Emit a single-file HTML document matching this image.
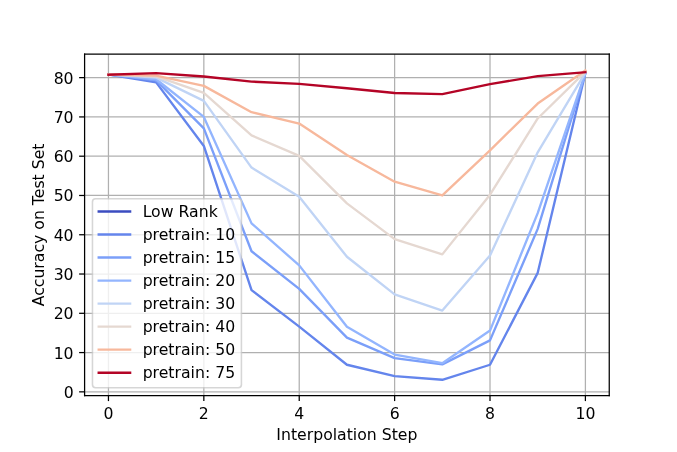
<!DOCTYPE html>
<html><head><meta charset="utf-8"><style>
html,body{margin:0;padding:0;background:#fff;width:677px;height:452px;overflow:hidden}
svg{display:block}
text{font-family:"DejaVu Sans",sans-serif}
</style></head><body>
<svg width="677" height="452" viewBox="0 0 431.362832 288" version="1.1">
 <defs>
  <style type="text/css">*{stroke-linejoin: round; stroke-linecap: butt}</style>
 </defs>
 <g id="figure_1">
  <g id="patch_1">
   <path d="M 0 288 
L 431.362832 288 
L 431.362832 0 
L 0 0 
z
" style="fill: #ffffff"/>
  </g>
  <g id="axes_1">
   <g id="patch_2">
    <path d="M 53.904425 252.063717 
L 388.19469 252.063717 
L 388.19469 34.56 
L 53.904425 34.56 
z
" style="fill: #ffffff"/>
   </g>
   <g id="matplotlib.axis_1">
    <g id="xtick_1">
     <g id="line2d_1">
      <path d="M 69.099437 252.063717 
L 69.099437 34.56 
" clip-path="url(#p710a248817)" style="fill: none; stroke: #b0b0b0; stroke-width: 0.8; stroke-linecap: square"/>
     </g>
     <g id="line2d_2">
      <g>
       <path d="M 69.099437 252.063717 L 69.099437 255.563717" style="stroke: #000000; stroke-width: 0.8"/>
      </g>
     </g>
     <g id="text_1">
      <text style="font-size: 10px; font-family: 'DejaVu Sans', sans-serif; text-anchor: middle" x="69.099437" y="266.662154" transform="rotate(-0 69.099437 266.662154)">0</text>
     </g>
    </g>
    <g id="xtick_2">
     <g id="line2d_3">
      <path d="M 129.879485 252.063717 
L 129.879485 34.56 
" clip-path="url(#p710a248817)" style="fill: none; stroke: #b0b0b0; stroke-width: 0.8; stroke-linecap: square"/>
     </g>
     <g id="line2d_4">
      <g>
       <path d="M 129.879485 252.063717 L 129.879485 255.563717" style="stroke: #000000; stroke-width: 0.8"/>
      </g>
     </g>
     <g id="text_2">
      <text style="font-size: 10px; font-family: 'DejaVu Sans', sans-serif; text-anchor: middle" x="129.879485" y="266.662154" transform="rotate(-0 129.879485 266.662154)">2</text>
     </g>
    </g>
    <g id="xtick_3">
     <g id="line2d_5">
      <path d="M 190.659533 252.063717 
L 190.659533 34.56 
" clip-path="url(#p710a248817)" style="fill: none; stroke: #b0b0b0; stroke-width: 0.8; stroke-linecap: square"/>
     </g>
     <g id="line2d_6">
      <g>
       <path d="M 190.659533 252.063717 L 190.659533 255.563717" style="stroke: #000000; stroke-width: 0.8"/>
      </g>
     </g>
     <g id="text_3">
      <text style="font-size: 10px; font-family: 'DejaVu Sans', sans-serif; text-anchor: middle" x="190.659533" y="266.662154" transform="rotate(-0 190.659533 266.662154)">4</text>
     </g>
    </g>
    <g id="xtick_4">
     <g id="line2d_7">
      <path d="M 251.439582 252.063717 
L 251.439582 34.56 
" clip-path="url(#p710a248817)" style="fill: none; stroke: #b0b0b0; stroke-width: 0.8; stroke-linecap: square"/>
     </g>
     <g id="line2d_8">
      <g>
       <path d="M 251.439582 252.063717 L 251.439582 255.563717" style="stroke: #000000; stroke-width: 0.8"/>
      </g>
     </g>
     <g id="text_4">
      <text style="font-size: 10px; font-family: 'DejaVu Sans', sans-serif; text-anchor: middle" x="251.439582" y="266.662154" transform="rotate(-0 251.439582 266.662154)">6</text>
     </g>
    </g>
    <g id="xtick_5">
     <g id="line2d_9">
      <path d="M 312.21963 252.063717 
L 312.21963 34.56 
" clip-path="url(#p710a248817)" style="fill: none; stroke: #b0b0b0; stroke-width: 0.8; stroke-linecap: square"/>
     </g>
     <g id="line2d_10">
      <g>
       <path d="M 312.219630 252.063717 L 312.219630 255.563717" style="stroke: #000000; stroke-width: 0.8"/>
      </g>
     </g>
     <g id="text_5">
      <text style="font-size: 10px; font-family: 'DejaVu Sans', sans-serif; text-anchor: middle" x="312.21963" y="266.662154" transform="rotate(-0 312.21963 266.662154)">8</text>
     </g>
    </g>
    <g id="xtick_6">
     <g id="line2d_11">
      <path d="M 372.999678 252.063717 
L 372.999678 34.56 
" clip-path="url(#p710a248817)" style="fill: none; stroke: #b0b0b0; stroke-width: 0.8; stroke-linecap: square"/>
     </g>
     <g id="line2d_12">
      <g>
       <path d="M 372.999678 252.063717 L 372.999678 255.563717" style="stroke: #000000; stroke-width: 0.8"/>
      </g>
     </g>
     <g id="text_6">
      <text style="font-size: 10px; font-family: 'DejaVu Sans', sans-serif; text-anchor: middle" x="372.999678" y="266.662154" transform="rotate(-0 372.999678 266.662154)">10</text>
     </g>
    </g>
    <g id="text_7">
     <text style="font-size: 10px; font-family: 'DejaVu Sans', sans-serif; text-anchor: middle" x="221.049558" y="280.340279" transform="rotate(-0 221.049558 280.340279)">Interpolation Step</text>
    </g>
   </g>
   <g id="matplotlib.axis_2">
    <g id="ytick_1">
     <g id="line2d_13">
      <path d="M 53.904425 249.673841 
L 388.19469 249.673841 
" clip-path="url(#p710a248817)" style="fill: none; stroke: #b0b0b0; stroke-width: 0.8; stroke-linecap: square"/>
     </g>
     <g id="line2d_14">
      <g>
       <path d="M 53.904425 249.673841 L 50.404425 249.673841" style="stroke: #000000; stroke-width: 0.8"/>
      </g>
     </g>
     <g id="text_8">
      <text style="font-size: 10px; font-family: 'DejaVu Sans', sans-serif; text-anchor: end" x="46.904425" y="253.47306" transform="rotate(-0 46.904425 253.47306)">0</text>
     </g>
    </g>
    <g id="ytick_2">
     <g id="line2d_15">
      <path d="M 53.904425 224.648964 
L 388.19469 224.648964 
" clip-path="url(#p710a248817)" style="fill: none; stroke: #b0b0b0; stroke-width: 0.8; stroke-linecap: square"/>
     </g>
     <g id="line2d_16">
      <g>
       <path d="M 53.904425 224.648964 L 50.404425 224.648964" style="stroke: #000000; stroke-width: 0.8"/>
      </g>
     </g>
     <g id="text_9">
      <text style="font-size: 10px; font-family: 'DejaVu Sans', sans-serif; text-anchor: end" x="46.904425" y="228.448183" transform="rotate(-0 46.904425 228.448183)">10</text>
     </g>
    </g>
    <g id="ytick_3">
     <g id="line2d_17">
      <path d="M 53.904425 199.624087 
L 388.19469 199.624087 
" clip-path="url(#p710a248817)" style="fill: none; stroke: #b0b0b0; stroke-width: 0.8; stroke-linecap: square"/>
     </g>
     <g id="line2d_18">
      <g>
       <path d="M 53.904425 199.624087 L 50.404425 199.624087" style="stroke: #000000; stroke-width: 0.8"/>
      </g>
     </g>
     <g id="text_10">
      <text style="font-size: 10px; font-family: 'DejaVu Sans', sans-serif; text-anchor: end" x="46.904425" y="203.423306" transform="rotate(-0 46.904425 203.423306)">20</text>
     </g>
    </g>
    <g id="ytick_4">
     <g id="line2d_19">
      <path d="M 53.904425 174.599211 
L 388.19469 174.599211 
" clip-path="url(#p710a248817)" style="fill: none; stroke: #b0b0b0; stroke-width: 0.8; stroke-linecap: square"/>
     </g>
     <g id="line2d_20">
      <g>
       <path d="M 53.904425 174.599211 L 50.404425 174.599211" style="stroke: #000000; stroke-width: 0.8"/>
      </g>
     </g>
     <g id="text_11">
      <text style="font-size: 10px; font-family: 'DejaVu Sans', sans-serif; text-anchor: end" x="46.904425" y="178.398429" transform="rotate(-0 46.904425 178.398429)">30</text>
     </g>
    </g>
    <g id="ytick_5">
     <g id="line2d_21">
      <path d="M 53.904425 149.574334 
L 388.19469 149.574334 
" clip-path="url(#p710a248817)" style="fill: none; stroke: #b0b0b0; stroke-width: 0.8; stroke-linecap: square"/>
     </g>
     <g id="line2d_22">
      <g>
       <path d="M 53.904425 149.574334 L 50.404425 149.574334" style="stroke: #000000; stroke-width: 0.8"/>
      </g>
     </g>
     <g id="text_12">
      <text style="font-size: 10px; font-family: 'DejaVu Sans', sans-serif; text-anchor: end" x="46.904425" y="153.373553" transform="rotate(-0 46.904425 153.373553)">40</text>
     </g>
    </g>
    <g id="ytick_6">
     <g id="line2d_23">
      <path d="M 53.904425 124.549457 
L 388.19469 124.549457 
" clip-path="url(#p710a248817)" style="fill: none; stroke: #b0b0b0; stroke-width: 0.8; stroke-linecap: square"/>
     </g>
     <g id="line2d_24">
      <g>
       <path d="M 53.904425 124.549457 L 50.404425 124.549457" style="stroke: #000000; stroke-width: 0.8"/>
      </g>
     </g>
     <g id="text_13">
      <text style="font-size: 10px; font-family: 'DejaVu Sans', sans-serif; text-anchor: end" x="46.904425" y="128.348676" transform="rotate(-0 46.904425 128.348676)">50</text>
     </g>
    </g>
    <g id="ytick_7">
     <g id="line2d_25">
      <path d="M 53.904425 99.52458 
L 388.19469 99.52458 
" clip-path="url(#p710a248817)" style="fill: none; stroke: #b0b0b0; stroke-width: 0.8; stroke-linecap: square"/>
     </g>
     <g id="line2d_26">
      <g>
       <path d="M 53.904425 99.524580 L 50.404425 99.524580" style="stroke: #000000; stroke-width: 0.8"/>
      </g>
     </g>
     <g id="text_14">
      <text style="font-size: 10px; font-family: 'DejaVu Sans', sans-serif; text-anchor: end" x="46.904425" y="103.323799" transform="rotate(-0 46.904425 103.323799)">60</text>
     </g>
    </g>
    <g id="ytick_8">
     <g id="line2d_27">
      <path d="M 53.904425 74.499703 
L 388.19469 74.499703 
" clip-path="url(#p710a248817)" style="fill: none; stroke: #b0b0b0; stroke-width: 0.8; stroke-linecap: square"/>
     </g>
     <g id="line2d_28">
      <g>
       <path d="M 53.904425 74.499703 L 50.404425 74.499703" style="stroke: #000000; stroke-width: 0.8"/>
      </g>
     </g>
     <g id="text_15">
      <text style="font-size: 10px; font-family: 'DejaVu Sans', sans-serif; text-anchor: end" x="46.904425" y="78.298922" transform="rotate(-0 46.904425 78.298922)">70</text>
     </g>
    </g>
    <g id="ytick_9">
     <g id="line2d_29">
      <path d="M 53.904425 49.474827 
L 388.19469 49.474827 
" clip-path="url(#p710a248817)" style="fill: none; stroke: #b0b0b0; stroke-width: 0.8; stroke-linecap: square"/>
     </g>
     <g id="line2d_30">
      <g>
       <path d="M 53.904425 49.474827 L 50.404425 49.474827" style="stroke: #000000; stroke-width: 0.8"/>
      </g>
     </g>
     <g id="text_16">
      <text style="font-size: 10px; font-family: 'DejaVu Sans', sans-serif; text-anchor: end" x="46.904425" y="53.274045" transform="rotate(-0 46.904425 53.274045)">80</text>
     </g>
    </g>
    <g id="text_17">
     <text style="font-size: 10px; font-family: 'DejaVu Sans', sans-serif; text-anchor: middle" x="28.099737" y="143.311858" transform="rotate(-90 28.099737 143.311858)">Accuracy on Test Set</text>
    </g>
   </g>
   <g id="line2d_31"/>
   <g id="line2d_32">
    <path d="M 69.099437 47.472836 
L 99.489461 52.477812 
L 129.879485 93.018112 
L 160.269509 184.85941 
L 190.659533 208.132546 
L 221.049558 232.406676 
L 251.439582 239.66389 
L 281.829606 241.991204 
L 312.21963 232.406676 
L 342.609654 173.848464 
L 372.999678 46.471841 
" clip-path="url(#p710a248817)" style="fill: none; stroke: #6485ec; stroke-width: 1.5; stroke-linecap: square"/>
   </g>
   <g id="line2d_33">
    <path d="M 69.099437 47.472836 
L 99.489461 51.226568 
L 129.879485 81.756918 
L 160.269509 160.084782 
L 190.659533 184.108664 
L 221.049558 215.139511 
L 251.439582 228.152447 
L 281.829606 232.156427 
L 312.21963 216.891252 
L 342.609654 145.820602 
L 372.999678 46.471841 
" clip-path="url(#p710a248817)" style="fill: none; stroke: #7b9ff9; stroke-width: 1.5; stroke-linecap: square"/>
   </g>
   <g id="line2d_34">
    <path d="M 69.099437 47.472836 
L 99.489461 50.475822 
L 129.879485 74.499703 
L 160.269509 142.31712 
L 190.659533 169.093738 
L 221.049558 208.132546 
L 251.439582 225.900208 
L 281.829606 231.405681 
L 312.21963 210.635033 
L 342.609654 135.810652 
L 372.999678 46.471841 
" clip-path="url(#p710a248817)" style="fill: none; stroke: #93b5fe; stroke-width: 1.5; stroke-linecap: square"/>
   </g>
   <g id="line2d_35">
    <path d="M 69.099437 47.472836 
L 99.489461 49.474827 
L 129.879485 64.239504 
L 160.269509 106.781794 
L 190.659533 125.300203 
L 221.049558 163.588265 
L 251.439582 187.612147 
L 281.829606 197.872346 
L 312.21963 162.837519 
L 342.609654 97.022093 
L 372.999678 46.221593 
" clip-path="url(#p710a248817)" style="fill: none; stroke: #c0d4f5; stroke-width: 1.5; stroke-linecap: square"/>
   </g>
   <g id="line2d_36">
    <path d="M 69.099437 47.472836 
L 99.489461 48.72408 
L 129.879485 59.234529 
L 160.269509 86.261395 
L 190.659533 99.274331 
L 221.049558 129.554432 
L 251.439582 152.32707 
L 281.829606 162.086772 
L 312.21963 124.048959 
L 342.609654 75.500698 
L 372.999678 45.721095 
" clip-path="url(#p710a248817)" style="fill: none; stroke: #e5d8d1; stroke-width: 1.5; stroke-linecap: square"/>
   </g>
   <g id="line2d_37">
    <path d="M 69.099437 47.472836 
L 99.489461 48.223583 
L 129.879485 54.730051 
L 160.269509 71.496718 
L 190.659533 78.753932 
L 221.049558 98.773834 
L 251.439582 115.79075 
L 281.829606 124.549457 
L 312.21963 95.770849 
L 342.609654 65.991245 
L 372.999678 44.820199 
" clip-path="url(#p710a248817)" style="fill: none; stroke: #f7b89c; stroke-width: 1.5; stroke-linecap: square"/>
   </g>
   <g id="line2d_38">
    <path d="M 69.099437 47.597961 
L 99.489461 46.596966 
L 129.879485 48.72408 
L 160.269509 51.977314 
L 190.659533 53.478807 
L 221.049558 56.231543 
L 251.439582 59.234529 
L 281.829606 59.985275 
L 312.21963 53.603931 
L 342.609654 48.473832 
L 372.999678 45.971344 
" clip-path="url(#p710a248817)" style="fill: none; stroke: #b40426; stroke-width: 1.5; stroke-linecap: square"/>
   </g>
   <g id="patch_3">
    <path d="M 53.904425 252.063717 
L 53.904425 34.56 
" style="fill: none; stroke: #000000; stroke-width: 0.8; stroke-linejoin: miter; stroke-linecap: square"/>
   </g>
   <g id="patch_4">
    <path d="M 388.19469 252.063717 
L 388.19469 34.56 
" style="fill: none; stroke: #000000; stroke-width: 0.8; stroke-linejoin: miter; stroke-linecap: square"/>
   </g>
   <g id="patch_5">
    <path d="M 53.904425 252.063717 
L 388.19469 252.063717 
" style="fill: none; stroke: #000000; stroke-width: 0.8; stroke-linejoin: miter; stroke-linecap: square"/>
   </g>
   <g id="patch_6">
    <path d="M 53.904425 34.56 
L 388.19469 34.56 
" style="fill: none; stroke: #000000; stroke-width: 0.8; stroke-linejoin: miter; stroke-linecap: square"/>
   </g>
   <g id="legend_1">
    <g id="patch_7">
     <path d="M 60.904425 247.063717 
L 151.8388 247.063717 
Q 153.8388 247.063717 153.8388 245.063717 
L 153.8388 128.638717 
Q 153.8388 126.638717 151.8388 126.638717 
L 60.904425 126.638717 
Q 58.904425 126.638717 58.904425 128.638717 
L 58.904425 245.063717 
Q 58.904425 247.063717 60.904425 247.063717 
z
" style="fill: #ffffff; opacity: 0.8; stroke: #cccccc; stroke-linejoin: miter"/>
    </g>
    <g id="line2d_39">
     <path d="M 62.904425 134.737154 
L 72.904425 134.737154 
L 82.904425 134.737154 
" style="fill: none; stroke: #3b4cc0; stroke-width: 1.5; stroke-linecap: square"/>
    </g>
    <g id="text_18">
     <text style="font-size: 10px; font-family: 'DejaVu Sans', sans-serif; text-anchor: start" x="90.904425" y="138.237154" transform="rotate(-0 90.904425 138.237154)">Low Rank</text>
    </g>
    <g id="line2d_40">
     <path d="M 62.904425 149.415279 
L 72.904425 149.415279 
L 82.904425 149.415279 
" style="fill: none; stroke: #6485ec; stroke-width: 1.5; stroke-linecap: square"/>
    </g>
    <g id="text_19">
     <text style="font-size: 10px; font-family: 'DejaVu Sans', sans-serif; text-anchor: start" x="90.904425" y="152.915279" transform="rotate(-0 90.904425 152.915279)">pretrain: 10</text>
    </g>
    <g id="line2d_41">
     <path d="M 62.904425 164.093404 
L 72.904425 164.093404 
L 82.904425 164.093404 
" style="fill: none; stroke: #7b9ff9; stroke-width: 1.5; stroke-linecap: square"/>
    </g>
    <g id="text_20">
     <text style="font-size: 10px; font-family: 'DejaVu Sans', sans-serif; text-anchor: start" x="90.904425" y="167.593404" transform="rotate(-0 90.904425 167.593404)">pretrain: 15</text>
    </g>
    <g id="line2d_42">
     <path d="M 62.904425 178.771529 
L 72.904425 178.771529 
L 82.904425 178.771529 
" style="fill: none; stroke: #93b5fe; stroke-width: 1.5; stroke-linecap: square"/>
    </g>
    <g id="text_21">
     <text style="font-size: 10px; font-family: 'DejaVu Sans', sans-serif; text-anchor: start" x="90.904425" y="182.271529" transform="rotate(-0 90.904425 182.271529)">pretrain: 20</text>
    </g>
    <g id="line2d_43">
     <path d="M 62.904425 193.449654 
L 72.904425 193.449654 
L 82.904425 193.449654 
" style="fill: none; stroke: #c0d4f5; stroke-width: 1.5; stroke-linecap: square"/>
    </g>
    <g id="text_22">
     <text style="font-size: 10px; font-family: 'DejaVu Sans', sans-serif; text-anchor: start" x="90.904425" y="196.949654" transform="rotate(-0 90.904425 196.949654)">pretrain: 30</text>
    </g>
    <g id="line2d_44">
     <path d="M 62.904425 208.127779 
L 72.904425 208.127779 
L 82.904425 208.127779 
" style="fill: none; stroke: #e5d8d1; stroke-width: 1.5; stroke-linecap: square"/>
    </g>
    <g id="text_23">
     <text style="font-size: 10px; font-family: 'DejaVu Sans', sans-serif; text-anchor: start" x="90.904425" y="211.627779" transform="rotate(-0 90.904425 211.627779)">pretrain: 40</text>
    </g>
    <g id="line2d_45">
     <path d="M 62.904425 222.805904 
L 72.904425 222.805904 
L 82.904425 222.805904 
" style="fill: none; stroke: #f7b89c; stroke-width: 1.5; stroke-linecap: square"/>
    </g>
    <g id="text_24">
     <text style="font-size: 10px; font-family: 'DejaVu Sans', sans-serif; text-anchor: start" x="90.904425" y="226.305904" transform="rotate(-0 90.904425 226.305904)">pretrain: 50</text>
    </g>
    <g id="line2d_46">
     <path d="M 62.904425 237.484029 
L 72.904425 237.484029 
L 82.904425 237.484029 
" style="fill: none; stroke: #b40426; stroke-width: 1.5; stroke-linecap: square"/>
    </g>
    <g id="text_25">
     <text style="font-size: 10px; font-family: 'DejaVu Sans', sans-serif; text-anchor: start" x="90.904425" y="240.984029" transform="rotate(-0 90.904425 240.984029)">pretrain: 75</text>
    </g>
   </g>
  </g>
 </g>
 <defs>
  <clipPath id="p710a248817">
   <rect x="53.904425" y="34.56" width="334.290265" height="217.503717"/>
  </clipPath>
 </defs>
</svg>

</body></html>
